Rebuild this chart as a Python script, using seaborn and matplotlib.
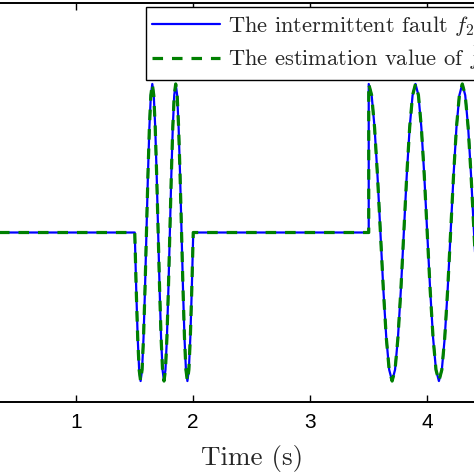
import numpy as np
import pandas as pd
import matplotlib
matplotlib.use("Agg")
import matplotlib.pyplot as plt
import seaborn as sns

# ---- data ----
# zero segments (time, value)
zero_before_t = [0.0]
zero_before_y = [0.0]
# first burst: 1.5 s .. 2.0 s, sampled every 0.0125 s
burst1_t = np.linspace(1.5, 2.0, 41)
burst1_y = [0, -.383, -.707, -.924, -1, -.924, -.707, -.383,
            0, .383, .707, .924, 1, .924, .707, .383,
            0, -.383, -.707, -.924, -1, -.924, -.707, -.383,
            0, .383, .707, .924, 1, .924, .707, .383,
            0, -.383, -.707, -.924, -1, -.924, -.707, -.383, 0]
# flat between bursts
zero_mid_t = [3.5]
zero_mid_y = [0.0]
# second burst: 3.5 s .. 4.5 s, sampled every 0.025 s
burst2_t = np.linspace(3.5, 4.5, 41)
burst2_y = [1, .924, .707, .383, 0, -.383, -.707, -.924,
            -1, -.924, -.707, -.383, 0, .383, .707, .924,
            1, .924, .707, .383, 0, -.383, -.707, -.924,
            -1, -.924, -.707, -.383, 0, .383, .707, .924,
            1, .924, .707, .383, 0, -.383, -.707, -.924, -1]

xticks = [1, 2, 3, 4]
xlabel = "Time (s)"
label_true = r"The intermittent fault $f_2(t)$"
label_est = r"The estimation value of $\hat{f}_2(t)$"

t_all = np.concatenate([zero_before_t, burst1_t, zero_mid_t, burst2_t])
y_all = np.concatenate([zero_before_y, burst1_y, zero_mid_y, burst2_y])
df = pd.DataFrame({"t": t_all, "y": y_all})

sns.set_style("white")
plt.rcParams["mathtext.fontset"] = "cm"

fig = plt.figure(figsize=(4.74, 4.74), dpi=100)
ax = fig.add_axes([0.0, 1 - 402 / 474, 1.0, (402 - 3) / 474])

sns.lineplot(data=df, x="t", y="y", ax=ax, estimator=None, sort=False,
             color=(0, 0, 1), linewidth=1.6, label=label_true)
sns.lineplot(data=df, x="t", y="y", ax=ax, estimator=None, sort=False,
             color=(0, 0.5, 0), linewidth=2.3, label=label_est)
ax.lines[1].set_dashes((3.3, 2.8))

ax.set_xlim(0.348, 4.40)
ax.set_ylim(-1.141, 1.545)
ax.set_xticks(xticks)
ax.set_xticklabels([str(v) for v in xticks], family="Liberation Sans", fontsize=15)
ax.set_yticks([])
ax.set_ylabel("")
ax.set_xlabel(xlabel, family="cmr10", fontsize=19.5)
ax.xaxis.set_label_coords(0.531, -0.108)
ax.tick_params(axis="x", direction="in", length=5, width=1, top=True, bottom=True,
               pad=8, colors="black")
for side in ["left", "right"]:
    ax.spines[side].set_visible(False)
for side in ["top", "bottom"]:
    ax.spines[side].set_linewidth(1.4)
    ax.spines[side].set_color("black")

leg = ax.legend(loc="upper left", bbox_to_anchor=(146 / 474, 1 - 7 / 474),
                bbox_transform=fig.transFigure, borderaxespad=0,
                prop={"family": "cmr10", "size": 16.2}, frameon=True,
                fancybox=False, framealpha=1, edgecolor="black",
                handlelength=3.0, handletextpad=0.35, borderpad=0.28,
                labelspacing=0.05)
leg.get_frame().set_linewidth(1.0)

fig.savefig("out.png", dpi=100)
